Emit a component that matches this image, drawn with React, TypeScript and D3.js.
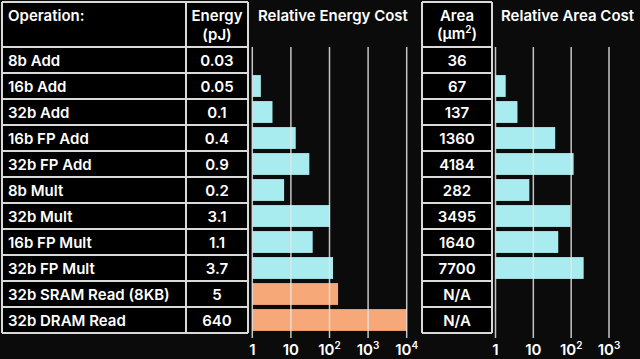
import React from "react";
import * as d3 from "d3";

const operations = [
  "8b Add", "16b Add", "32b Add", "16b FP Add", "32b FP Add", "8b Mult",
  "32b Mult", "16b FP Mult", "32b FP Mult", "32b SRAM Read (8KB)", "32b DRAM Read",
];
const energyPJ = [0.03, 0.05, 0.1, 0.4, 0.9, 0.2, 3.1, 1.1, 3.7, 5, 640];
const areaUm2: (number | null)[] = [36, 67, 137, 1360, 4184, 282, 3495, 1640, 7700, null, null];
const kind = ["op", "op", "op", "op", "op", "op", "op", "op", "op", "mem", "mem"];
const energyTicks = [1, 10, 100, 1000, 10000];
const areaTicks = [1, 10, 100, 1000];

const W = 640;
const H = 359;
const FONT = "Inter, 'Liberation Sans', sans-serif";
const BG = "#0b0b0b";
const LINE = "#d9d9d9";
const CYAN = "#a9ecef";
const ORANGE = "#f7a878";
const FS = 15;

function TickLabel({ v, x, y }: { v: number; x: number; y: number }) {
  const exp = Math.round(Math.log10(v));
  if (exp === 0 || exp === 1) {
    return (
      <text x={x} y={y} textAnchor="middle" fill="#fff" fontSize={15} fontWeight={600} fontFamily={FONT}>
        {String(v)}
      </text>
    );
  }
  return (
    <text x={x} y={y} textAnchor="middle" fill="#fff" fontSize={15} fontWeight={600} fontFamily={FONT}>
      10
      <tspan fontSize={10} dy={-6}>{exp}</tspan>
    </text>
  );
}

export default function App() {
  const top = 47;
  const rowH = 26;
  const n = operations.length;
  const bottom = top + rowH * n;

  const y = d3.scaleBand<number>().domain(d3.range(n)).range([top, bottom]).paddingInner(0.16).paddingOuter(0.08);

  const xE = d3.scaleLog().domain([1, 1e4]).range([252.3, 406.7]).clamp(true);
  const xA = d3.scaleLog().domain([1, 1e3]).range([495.5, 609]).clamp(true);

  const relE = energyPJ.map((e) => e / energyPJ[0]);
  const relA = areaUm2.map((a) => (a == null ? null : a / (areaUm2[0] as number)));

  const t1 = { x0: 2, x1: 186, x2: 248 };
  const t2 = { x0: 422, x1: 492 };

  const txt = (s: string, x: number, yy: number, anchor: "start" | "middle" = "start") => (
    <text x={x} y={yy} textAnchor={anchor} fill="#fff" fontSize={FS} fontWeight={600} fontFamily={FONT} dominantBaseline="central">
      {s}
    </text>
  );

  const rowCenter = (i: number) => top + rowH * i + rowH / 2;
  const rowLines = d3.range(n + 2).map((i) => (i === 0 ? 2 : top + rowH * (i - 1)));

  return (
    <div style={{ position: "fixed", left: 0, top: 0 }}>
      <svg width={W} height={H} style={{ display: "block", background: BG }}>
        {/* table 1 */}
        <rect x={t1.x0} y={2} width={t1.x2 - t1.x0} height={bottom - 2} fill="#000" />
        {rowLines.map((ly, i) => (
          <line key={"r1" + i} x1={t1.x0} x2={t1.x2} y1={ly} y2={ly} stroke={LINE} strokeWidth={2} />
        ))}
        {[t1.x0, t1.x1, t1.x2].map((lx, i) => (
          <line key={"c1" + i} x1={lx} x2={lx} y1={2} y2={bottom} stroke={LINE} strokeWidth={2} />
        ))}
        {txt("Operation:", 8, 15)}
        {txt("Energy", (t1.x1 + t1.x2) / 2, 15, "middle")}
        {txt("(pJ)", (t1.x1 + t1.x2) / 2, 34, "middle")}
        {operations.map((op, i) => (
          <g key={"op" + i}>
            {txt(op, 8, rowCenter(i))}
            {txt(String(energyPJ[i]), (t1.x1 + t1.x2) / 2, rowCenter(i), "middle")}
          </g>
        ))}

        {/* table 2 */}
        <rect x={t2.x0} y={2} width={t2.x1 - t2.x0} height={bottom - 2} fill="#000" />
        {rowLines.map((ly, i) => (
          <line key={"r2" + i} x1={t2.x0} x2={t2.x1} y1={ly} y2={ly} stroke={LINE} strokeWidth={2} />
        ))}
        {[t2.x0, t2.x1].map((lx, i) => (
          <line key={"c2" + i} x1={lx} x2={lx} y1={2} y2={bottom} stroke={LINE} strokeWidth={2} />
        ))}
        {txt("Area", (t2.x0 + t2.x1) / 2, 15, "middle")}
        <text x={(t2.x0 + t2.x1) / 2} y={39} textAnchor="middle" fill="#fff" fontSize={FS} fontWeight={600} fontFamily={FONT}>
          (μm<tspan fontSize={10} dy={-6}>2</tspan><tspan dy={6}>)</tspan>
        </text>
        {areaUm2.map((a, i) => (
          <g key={"ar" + i}>{txt(a == null ? "N/A" : String(a), (t2.x0 + t2.x1) / 2, rowCenter(i), "middle")}</g>
        ))}

        {/* energy chart */}
        {txt("Relative Energy Cost", 258, 15)}
        {relE.map((v, i) => (
          <rect key={"eb" + i} x={xE(1)} y={y(i)} width={Math.max(0, xE(v) - xE(1))} height={y.bandwidth()}
            fill={kind[i] === "mem" ? ORANGE : CYAN} />
        ))}
        {energyTicks.map((t) => (
          <g key={"et" + t}>
            <line x1={xE(t)} x2={xE(t)} y1={top} y2={338} stroke="#e6e6e6" strokeOpacity={0.85} strokeWidth={1.5} />
            <TickLabel v={t} x={xE(t)} y={355} />
          </g>
        ))}

        {/* area chart */}
        {txt("Relative Area Cost", 501, 15)}
        {relA.map((v, i) =>
          v == null ? null : (
            <rect key={"ab" + i} x={xA(1)} y={y(i)} width={Math.max(0, xA(v) - xA(1))} height={y.bandwidth()} fill={CYAN} />
          )
        )}
        {areaTicks.map((t) => (
          <g key={"at" + t}>
            <line x1={xA(t)} x2={xA(t)} y1={top} y2={338} stroke="#e6e6e6" strokeOpacity={0.85} strokeWidth={1.5} />
            <TickLabel v={t} x={xA(t)} y={355} />
          </g>
        ))}
      </svg>
    </div>
  );
}
